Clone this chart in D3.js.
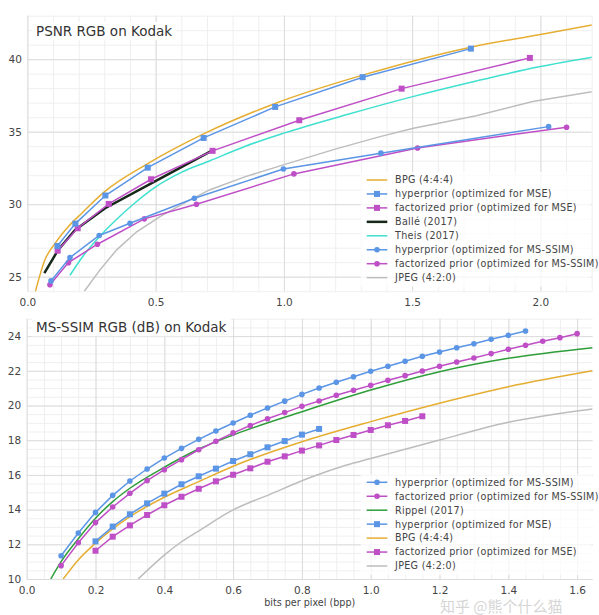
<!DOCTYPE html>
<html><head><meta charset="utf-8">
<script src="https://cdn.jsdelivr.net/npm/d3@7"></script>
<style>
html,body{margin:0;padding:0;background:#fff;}
text{font-family:"DejaVu Sans",sans-serif;}
</style></head>
<body><svg id="c" width="599" height="615"></svg>
<script>
// ---------- PSNR panel data ----------
const psnrTicksX = [0.0, 0.5, 1.0, 1.5, 2.0];
const psnrTicksY = [25, 30, 35, 40];
const bpgPsnrX = [0.03,0.068,0.108,0.16,0.212,0.3,0.469,0.687,0.966,1.307,1.729,2.0,2.206];
const bpgPsnrY = [23.9,26.15,27.3,28.46,29.38,30.85,32.8,34.85,36.95,38.9,40.83,41.7,42.37];
const hypMsePsnrX = [0.117,0.187,0.304,0.469,0.687,0.966,1.307,1.729];
const hypMsePsnrY = [27.12,28.66,30.6,32.52,34.57,36.71,38.76,40.73];
const facMsePsnrX = [0.118,0.196,0.317,0.482,0.722,1.06,1.459,1.959];
const facMsePsnrY = [26.8,28.34,30.02,31.72,33.68,35.79,37.97,40.09];
const ballePsnrX = [0.066,0.12,0.186,0.303,0.49,0.716];
const ballePsnrY = [25.24,26.85,28.23,29.72,31.5,33.66];
const theisPsnrX = [0.166,0.22,0.283,0.35,0.413,0.5,0.6,0.712,0.85,1.0,1.25,1.502,1.75,2.0,2.204];
const theisPsnrY = [25.1,26.5,27.8,29.0,30.0,31.2,32.2,33.0,34.0,34.9,36.2,37.42,38.5,39.49,40.14];
const hypSsimPsnrX = [0.092,0.166,0.28,0.4,0.651,0.998,1.378,2.032];
const hypSsimPsnrY = [24.71,26.32,27.84,28.69,30.41,32.43,33.52,35.35];
const facSsimPsnrX = [0.088,0.16,0.273,0.456,0.659,1.039,1.521,2.102];
const facSsimPsnrY = [24.45,25.97,27.24,28.99,30.0,32.09,33.88,35.31];
const jpegPsnrX = [0.222,0.283,0.348,0.426,0.517,0.634,0.712,0.85,0.998,1.2,1.375,1.505,1.75,1.97,2.206];
const jpegPsnrY = [24.0,25.47,26.85,28.1,29.14,30.3,31.0,31.9,32.71,33.8,34.66,35.24,36.1,37.08,37.77];

// ---------- MS-SSIM panel data ----------
const ssimTicksX = [0.0, 0.2, 0.4, 0.6, 0.8, 1.0, 1.2, 1.4, 1.6];
const ssimTicksY = [10, 12, 14, 16, 18, 20, 22, 24];
const hypSsimX = [0.1,0.15,0.2,0.25,0.3,0.35,0.4,0.45,0.5,0.55,0.6,0.65,0.7,0.75,0.8,0.85,0.9,0.95,1.0,1.05,1.1,1.15,1.2,1.25,1.3,1.35,1.4,1.45];
const hypSsimY = [11.34,12.65,13.84,14.82,15.65,16.34,16.97,17.53,18.05,18.53,18.99,19.44,19.86,20.25,20.64,21.01,21.34,21.66,21.97,22.26,22.55,22.84,23.08,23.33,23.56,23.82,24.05,24.29];
const facSsimX = [0.1,0.15,0.2,0.25,0.3,0.35,0.4,0.45,0.5,0.55,0.6,0.65,0.7,0.75,0.8,0.85,0.9,0.95,1.0,1.05,1.1,1.15,1.2,1.25,1.3,1.35,1.4,1.45,1.5,1.55,1.6];
const facSsimY = [10.77,12.09,13.25,14.15,14.94,15.67,16.3,16.88,17.45,17.94,18.42,18.85,19.24,19.59,19.95,20.26,20.59,20.88,21.16,21.45,21.72,21.99,22.26,22.51,22.74,22.99,23.24,23.47,23.7,23.91,24.14];
const rippelSsimX = [0.07,0.1,0.15,0.2,0.25,0.3,0.4,0.5,0.6,0.8,1.0,1.2,1.4,1.645];
const rippelSsimY = [10.0,11.0,12.32,13.5,14.46,15.23,16.44,17.49,18.3,19.64,20.89,21.95,22.72,23.33];
const hypMseSsimX = [0.2,0.25,0.3,0.35,0.4,0.45,0.5,0.55,0.6,0.65,0.7,0.75,0.8,0.85];
const hypMseSsimY = [12.17,13.02,13.73,14.36,14.92,15.46,15.92,16.36,16.8,17.19,17.59,17.95,18.32,18.65];
const bpgSsimX = [0.106,0.15,0.2,0.3,0.4,0.5,0.6,0.8,1.0,1.2,1.4,1.645];
const bpgSsimY = [10.0,11.1,12.06,13.59,14.71,15.61,16.5,17.91,19.07,20.13,21.08,22.0];
const facMseSsimX = [0.2,0.25,0.3,0.35,0.4,0.45,0.5,0.55,0.6,0.65,0.7,0.75,0.8,0.85,0.9,0.95,1.0,1.05,1.1,1.15];
const facMseSsimY = [11.63,12.44,13.09,13.69,14.25,14.74,15.2,15.63,16.01,16.38,16.76,17.07,17.4,17.7,18.01,18.3,18.59,18.86,19.11,19.38];
const jpegSsimX = [0.324,0.4,0.446,0.504,0.6,0.707,0.824,0.93,1.0,1.2,1.4,1.645];
const jpegSsimY = [10.0,11.38,12.09,12.82,13.98,14.88,15.85,16.57,16.95,18.01,19.03,19.8];

const C = {bpg:"#e5ae32", hyp:"#5b95e5", fac:"#bf4fc6", balle:"#15281a", theis:"#3fe0cf", rippel:"#2f9e3a", jpeg:"#bdbdbd"};

const svg = d3.select("#c");
const zip = (xs, ys) => xs.map((x,i)=>[x, ys[i]]);

function panel(cfg){
  const g = svg.append("g");
  const x = d3.scaleLinear().domain(cfg.xd).range(cfg.xr);
  const y = d3.scaleLinear().domain(cfg.yd).range(cfg.yr);
  const [x0,x1] = cfg.xr, [y1,y0] = cfg.yr;
  g.append("rect").attr("x",x0).attr("y",y0).attr("width",x1-x0).attr("height",y1-y0).attr("fill","#fff");
  const minorX = d3.range(cfg.xd[0], cfg.xd[1]+1e-9, cfg.minorX);
  const minorY = d3.range(Math.ceil(cfg.yd[0]), cfg.yd[1]+1e-9, cfg.minorY);
  g.append("g").attr("transform",`translate(0,${y1})`)
    .call(d3.axisBottom(x).tickValues(minorX).tickSize(-(y1-y0)).tickFormat(""))
    .call(s=>{s.select(".domain").remove(); s.selectAll("line").attr("stroke","#efefef");});
  g.append("g").attr("transform",`translate(${x0},0)`)
    .call(d3.axisLeft(y).tickValues(minorY).tickSize(-(x1-x0)).tickFormat(""))
    .call(s=>{s.select(".domain").remove(); s.selectAll("line").attr("stroke","#efefef");});
  g.append("g").attr("transform",`translate(0,${y1})`)
    .call(d3.axisBottom(x).tickValues(cfg.ticksX).tickSize(-(y1-y0)).tickFormat(""))
    .call(s=>{s.select(".domain").remove(); s.selectAll("line").attr("stroke","#dcdcdc");});
  g.append("g").attr("transform",`translate(${x0},0)`)
    .call(d3.axisLeft(y).tickValues(cfg.ticksY).tickSize(-(x1-x0)).tickFormat(""))
    .call(s=>{s.select(".domain").remove(); s.selectAll("line").attr("stroke","#dcdcdc");});
  g.append("g").attr("transform",`translate(0,${y1})`)
    .call(d3.axisBottom(x).tickValues(cfg.ticksX).tickSize(0).tickPadding(cfg.padX).tickFormat(d3.format(".1f")))
    .call(s=>{s.select(".domain").remove(); s.selectAll("text").attr("fill","#444").style("font-size","10.5px").style("font-family","DejaVu Sans");});
  g.append("g").attr("transform",`translate(${x0},0)`)
    .call(d3.axisLeft(y).tickValues(cfg.ticksY).tickSize(0).tickPadding(5.5).tickFormat(d3.format("d")))
    .call(s=>{s.select(".domain").remove(); s.selectAll("text").attr("fill","#444").style("font-size","10.5px").style("font-family","DejaVu Sans");});
  const cid = "clip"+cfg.id;
  svg.append("clipPath").attr("id",cid).append("rect").attr("x",x0).attr("y",y0).attr("width",x1-x0).attr("height",y1-y0);
  const plot = g.append("g").attr("clip-path",`url(#${cid})`);
  cfg.series.forEach(s=>{
    const pts = zip(s.x, s.y);
    const line = d3.line().x(d=>x(d[0])).y(d=>y(d[1])).curve(s.smooth ? d3.curveMonotoneX : d3.curveLinear);
    plot.append("path").attr("d",line(pts)).attr("fill","none").attr("stroke",s.color).attr("stroke-width",s.w||1.5);
    if(s.marker==="square"){
      plot.selectAll(null).data(pts).enter().append("rect")
        .attr("x",d=>x(d[0])-3).attr("y",d=>y(d[1])-3).attr("width",6).attr("height",6).attr("fill",s.color);
    } else if(s.marker==="circle"){
      plot.selectAll(null).data(pts).enter().append("circle")
        .attr("cx",d=>x(d[0])).attr("cy",d=>y(d[1])).attr("r",2.8).attr("fill",s.color);
    }
  });
  // title with white background
  const tg = g.append("g");
  const tr = tg.append("rect").attr("fill","#fff");
  const t = tg.append("text").attr("x",cfg.titleX).attr("y",cfg.titleY).text(cfg.title)
    .attr("fill","#333").style("font-size","13.5px");
  const bb = t.node().getBBox();
  tr.attr("x",bb.x-4).attr("y",bb.y-1).attr("width",bb.width+8).attr("height",bb.height+2);
  // legend
  const lg = g.append("g");
  lg.append("rect").attr("x",cfg.legX-6).attr("y",cfg.legY-8).attr("width",x1-cfg.legX+5).attr("height",cfg.legend.length*cfg.legDy+3)
    .attr("fill","#fff").attr("opacity",0.75);
  cfg.legend.forEach((s,i)=>{
    const yy = cfg.legY + i*cfg.legDy;
    lg.append("line").attr("x1",cfg.legX).attr("x2",cfg.legX+20.6).attr("y1",yy).attr("y2",yy).attr("stroke",s.color).attr("stroke-width",s.w||1.5);
    if(s.marker==="square") lg.append("rect").attr("x",cfg.legX+10.3-3).attr("y",yy-3).attr("width",6).attr("height",6).attr("fill",s.color);
    if(s.marker==="circle") lg.append("circle").attr("cx",cfg.legX+10.3).attr("cy",yy).attr("r",2.8).attr("fill",s.color);
    lg.append("text").attr("x",cfg.legX+28.3).attr("y",yy).attr("dy","0.35em").text(s.name)
      .attr("fill","#444").style("font-size","9.6px").style("letter-spacing","0.3px");
  });
  return {x,y};
}

const topSeries = [
  {name:"BPG (4:4:4)", x:bpgPsnrX, y:bpgPsnrY, color:C.bpg, smooth:true},
  {name:"hyperprior (optimized for MSE)", x:hypMsePsnrX, y:hypMsePsnrY, color:C.hyp, marker:"square"},
  {name:"factorized prior (optimized for MSE)", x:facMsePsnrX, y:facMsePsnrY, color:C.fac, marker:"square"},
  {name:"Ballé (2017)", x:ballePsnrX, y:ballePsnrY, color:C.balle, w:2.5},
  {name:"Theis (2017)", x:theisPsnrX, y:theisPsnrY, color:C.theis, smooth:true},
  {name:"hyperprior (optimized for MS-SSIM)", x:hypSsimPsnrX, y:hypSsimPsnrY, color:C.hyp, marker:"circle"},
  {name:"factorized prior (optimized for MS-SSIM)", x:facSsimPsnrX, y:facSsimPsnrY, color:C.fac, marker:"circle"},
  {name:"JPEG (4:2:0)", x:jpegPsnrX, y:jpegPsnrY, color:C.jpeg}
];
const topDraw = [topSeries[7], topSeries[4], topSeries[0], topSeries[6], topSeries[5], topSeries[3], topSeries[2], topSeries[1]];

panel({id:1, xd:[0,2.2], xr:[27.4,591.7], yd:[24,43], yr:[291.2,15.7],
  ticksX:psnrTicksX, ticksY:psnrTicksY, minorX:0.1, minorY:1, padX:7,
  series:topDraw, legend:topSeries, legX:366.7, legY:180, legDy:13.95,
  title:"PSNR RGB on Kodak", titleX:36, titleY:36});

const botSeries = [
  {name:"hyperprior (optimized for MS-SSIM)", x:hypSsimX, y:hypSsimY, color:C.hyp, marker:"circle"},
  {name:"factorized prior (optimized for MS-SSIM)", x:facSsimX, y:facSsimY, color:C.fac, marker:"circle"},
  {name:"Rippel (2017)", x:rippelSsimX, y:rippelSsimY, color:C.rippel, smooth:true},
  {name:"hyperprior (optimized for MSE)", x:hypMseSsimX, y:hypMseSsimY, color:C.hyp, marker:"square"},
  {name:"BPG (4:4:4)", x:bpgSsimX, y:bpgSsimY, color:C.bpg, smooth:true},
  {name:"factorized prior (optimized for MSE)", x:facMseSsimX, y:facMseSsimY, color:C.fac, marker:"square"},
  {name:"JPEG (4:2:0)", x:jpegSsimX, y:jpegSsimY, color:C.jpeg, smooth:true}
];
const botDraw = [botSeries[6], botSeries[4], botSeries[2], botSeries[5], botSeries[3], botSeries[1], botSeries[0]];

panel({id:2, xd:[0,1.645], xr:[26.7,592.6], yd:[10,25], yr:[579,318.75],
  ticksX:ssimTicksX, ticksY:ssimTicksY, minorX:0.05, minorY:0.5, padX:7.5,
  series:botDraw, legend:botSeries, legX:366.7, legY:482.3, legDy:13.95,
  title:"MS-SSIM RGB (dB) on Kodak", titleX:36, titleY:332.3});

svg.append("text").attr("x",309.7).attr("y",606).attr("text-anchor","middle")
  .text("bits per pixel (bpp)").attr("fill","#444").style("font-size","9.6px");

// watermark (kept just below the tick labels)
svg.append("text").attr("x",440).attr("y",612).text("知乎 @熊个什么猫")
  .style("font-family","'Noto Sans CJK SC'").style("font-size","15px")
  .attr("fill","#d0d0d0").attr("fill-opacity",0.9);
</script></body></html>
